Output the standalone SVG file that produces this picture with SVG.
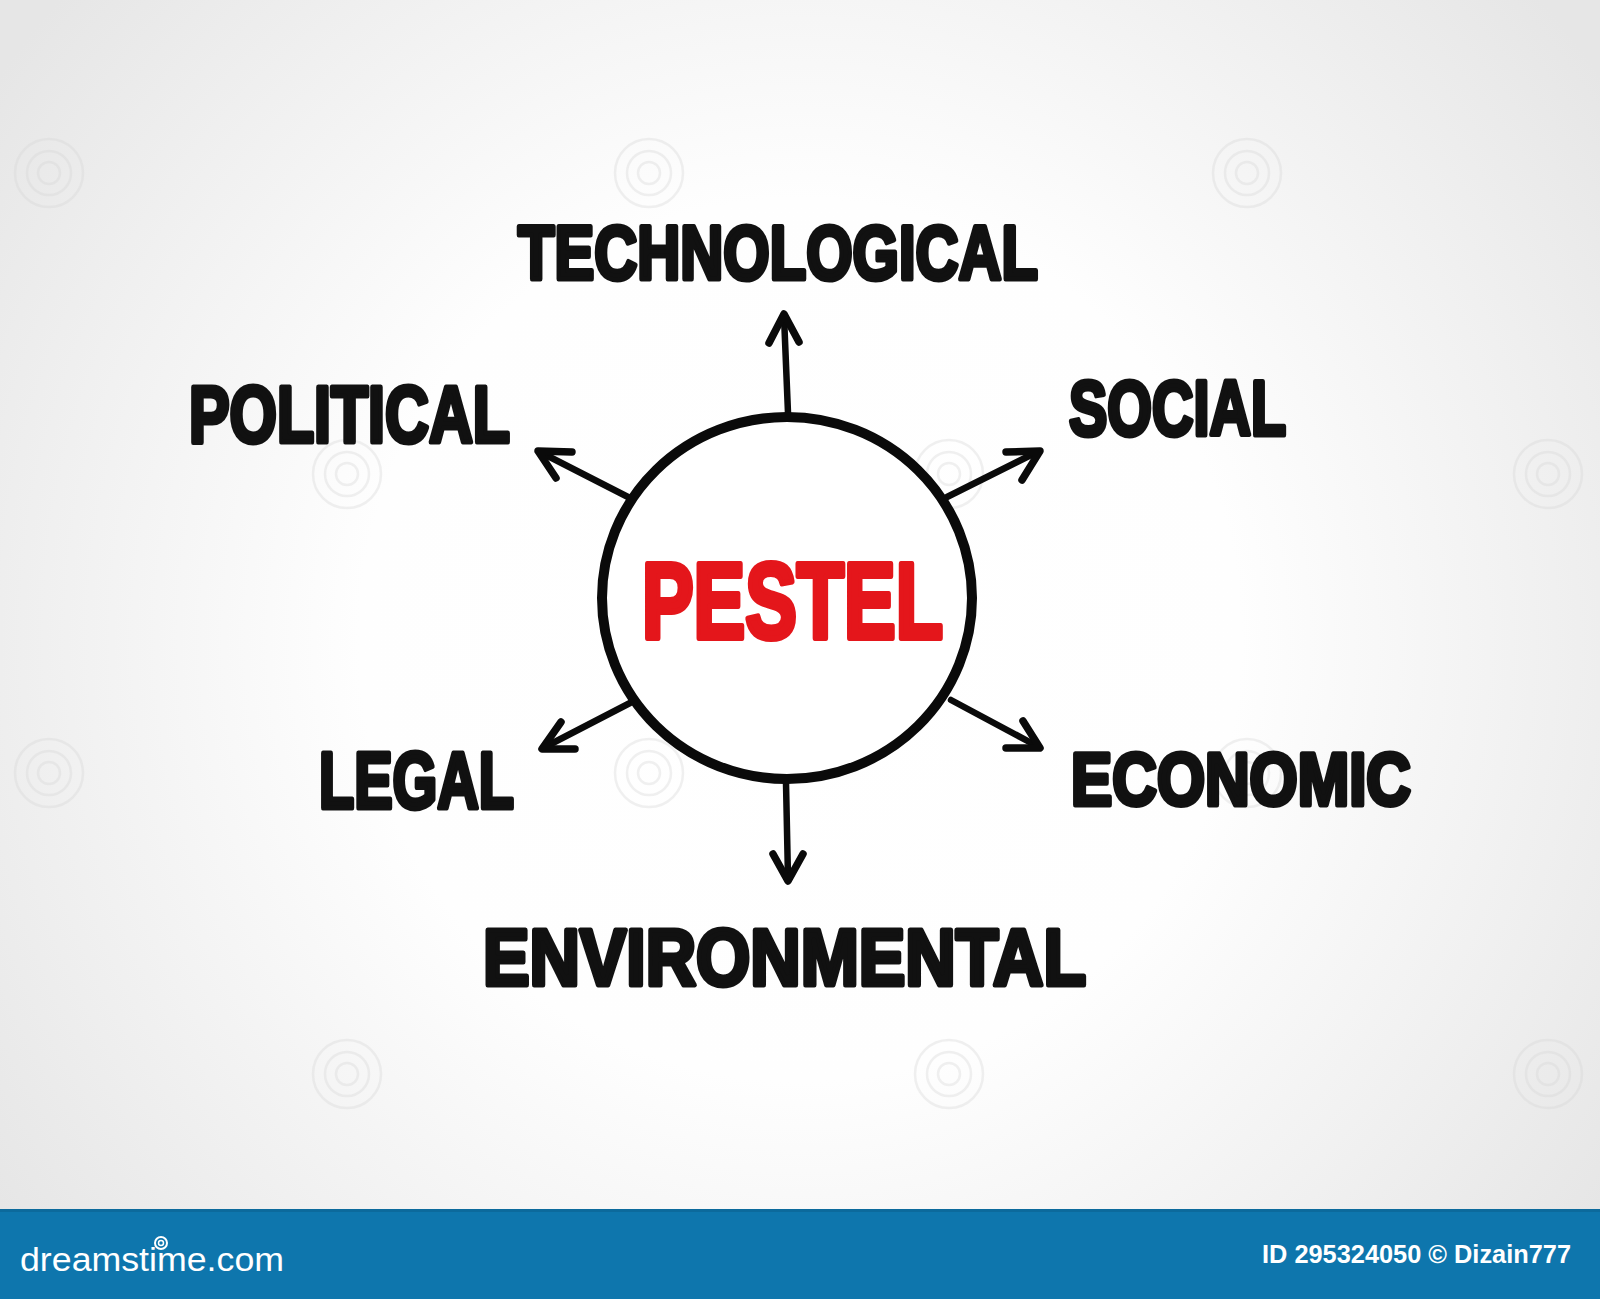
<svg xmlns="http://www.w3.org/2000/svg" width="1600" height="1299" viewBox="0 0 1600 1299">
<defs>
<radialGradient id="bg" gradientUnits="userSpaceOnUse" cx="800" cy="640" r="980">
<stop offset="0" stop-color="#ffffff"/>
<stop offset="0.45" stop-color="#fefefe"/>
<stop offset="1" stop-color="#e6e6e6"/>
</radialGradient>
<style>
.lbl{font-family:"Liberation Sans",Arial,sans-serif;font-weight:bold;fill:#111;stroke:#111;stroke-width:5;stroke-linejoin:round;}
.red{font-family:"Liberation Sans",Arial,sans-serif;font-weight:bold;fill:#e4161b;stroke:#e4161b;stroke-width:6;stroke-linejoin:round;}
.ln{fill:none;stroke:#0a0a0a;stroke-width:6.5;stroke-linecap:round;stroke-linejoin:round;}
.hd{fill:none;stroke:#0a0a0a;stroke-width:7.5;stroke-linecap:round;stroke-linejoin:round;}
.wm{fill:none;stroke:#d6d6d6;stroke-width:2.5;opacity:0.35;}
.ft{font-family:"Liberation Sans",Arial,sans-serif;fill:#ffffff;}
</style>
</defs>
<rect x="0" y="0" width="1600" height="1299" fill="url(#bg)"/>
<g id="watermarks">
<g class="wm"><circle cx="49" cy="173" r="34"/><circle cx="49" cy="173" r="22"/><circle cx="49" cy="173" r="11"/></g>
<g class="wm"><circle cx="649" cy="173" r="34"/><circle cx="649" cy="173" r="22"/><circle cx="649" cy="173" r="11"/></g>
<g class="wm"><circle cx="1247" cy="173" r="34"/><circle cx="1247" cy="173" r="22"/><circle cx="1247" cy="173" r="11"/></g>
<g class="wm"><circle cx="347" cy="474" r="34"/><circle cx="347" cy="474" r="22"/><circle cx="347" cy="474" r="11"/></g>
<g class="wm"><circle cx="949" cy="474" r="34"/><circle cx="949" cy="474" r="22"/><circle cx="949" cy="474" r="11"/></g>
<g class="wm"><circle cx="1548" cy="474" r="34"/><circle cx="1548" cy="474" r="22"/><circle cx="1548" cy="474" r="11"/></g>
<g class="wm"><circle cx="49" cy="773" r="34"/><circle cx="49" cy="773" r="22"/><circle cx="49" cy="773" r="11"/></g>
<g class="wm"><circle cx="649" cy="773" r="34"/><circle cx="649" cy="773" r="22"/><circle cx="649" cy="773" r="11"/></g>
<g class="wm"><circle cx="1247" cy="773" r="34"/><circle cx="1247" cy="773" r="22"/><circle cx="1247" cy="773" r="11"/></g>
<g class="wm"><circle cx="347" cy="1074" r="34"/><circle cx="347" cy="1074" r="22"/><circle cx="347" cy="1074" r="11"/></g>
<g class="wm"><circle cx="949" cy="1074" r="34"/><circle cx="949" cy="1074" r="22"/><circle cx="949" cy="1074" r="11"/></g>
<g class="wm"><circle cx="1548" cy="1074" r="34"/><circle cx="1548" cy="1074" r="22"/><circle cx="1548" cy="1074" r="11"/></g>
</g>
<g id="connectors">
<line class="ln" x1="788" y1="413" x2="784" y2="316"/>
<polyline class="hd" points="769,343 784,314 799,342"/>
<line class="ln" x1="628" y1="497" x2="540" y2="452"/>
<polyline class="hd" points="572,452 538,451 556,478"/>
<line class="ln" x1="947" y1="497" x2="1037" y2="452"/>
<polyline class="hd" points="1006,452 1040,451 1022,480"/>
<line class="ln" x1="630" y1="703" x2="545" y2="747"/>
<polyline class="hd" points="561,722 542,749 575,749"/>
<line class="ln" x1="951" y1="700" x2="1037" y2="746"/>
<polyline class="hd" points="1023,721 1040,748 1006,748"/>
<line class="ln" x1="786" y1="783" x2="788" y2="878"/>
<polyline class="hd" points="773,854 788,881 803,854"/>
</g>
<g id="node-pestel">
<ellipse cx="787" cy="598" rx="185" ry="181" fill="#ffffff" stroke="#0a0a0a" stroke-width="10"/>
<text class="red" x="642" y="638" font-size="108" textLength="301" lengthAdjust="spacingAndGlyphs">PESTEL</text>
</g>
<g id="node-technological">
<text class="lbl" x="518" y="279" font-size="76" textLength="520" lengthAdjust="spacingAndGlyphs">TECHNOLOGICAL</text>
</g>
<g id="node-political">
<text class="lbl" x="189" y="442" font-size="80" textLength="321" lengthAdjust="spacingAndGlyphs">POLITICAL</text>
</g>
<g id="node-social">
<text class="lbl" x="1069" y="435" font-size="78" textLength="217" lengthAdjust="spacingAndGlyphs">SOCIAL</text>
</g>
<g id="node-legal">
<text class="lbl" x="319" y="808" font-size="80" textLength="195" lengthAdjust="spacingAndGlyphs">LEGAL</text>
</g>
<g id="node-economic">
<text class="lbl" x="1071" y="805" font-size="74" textLength="340" lengthAdjust="spacingAndGlyphs">ECONOMIC</text>
</g>
<g id="node-environmental">
<text class="lbl" x="483" y="985" font-size="80" textLength="603" lengthAdjust="spacingAndGlyphs">ENVIRONMENTAL</text>
</g>
<g id="footer">
<rect x="0" y="1209" width="1600" height="90" fill="#0e76ad"/>
<rect x="0" y="1209" width="1600" height="3" fill="#0c6a9c"/>
<text class="ft" x="20" y="1271" font-size="34" textLength="264" lengthAdjust="spacingAndGlyphs">dreamstime.com</text>
<circle cx="161" cy="1243" r="6" fill="none" stroke="#ffffff" stroke-width="2"/>
<circle cx="161" cy="1243" r="2.5" fill="none" stroke="#ffffff" stroke-width="1.5"/>
<text class="ft" x="1262" y="1263" font-size="26" font-weight="bold" textLength="309" lengthAdjust="spacingAndGlyphs">ID 295324050 © Dizain777</text>
</g>
</svg>
